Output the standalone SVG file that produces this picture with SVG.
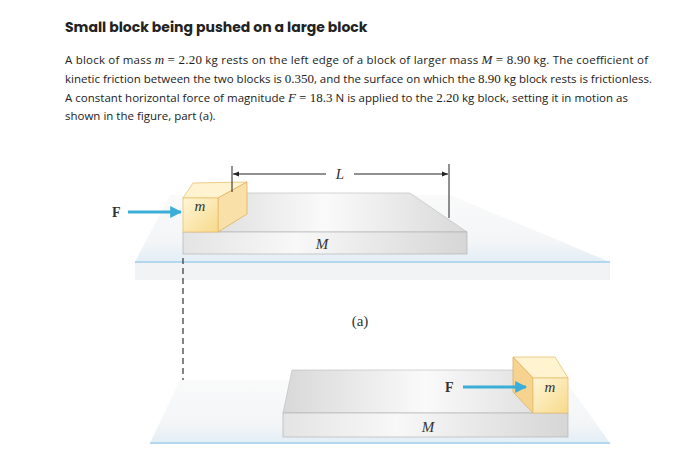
<svg xmlns="http://www.w3.org/2000/svg" width="700" height="464" viewBox="0 0 700 464">
<defs>
<style>
.t{font-family:"Open Sans","Liberation Sans",sans-serif;font-size:11.5px;fill:#222}
.mi{font-family:"Liberation Serif",serif;font-style:italic;font-size:13px}
.mn{font-family:"Liberation Serif",serif;font-size:13px}
.lab{font-family:"Liberation Serif",serif;font-style:italic;font-size:15px;fill:#333}
.F{font-family:"Liberation Serif",serif;font-weight:bold;font-size:14px;fill:#333}
.arrow{stroke:#3aaed8;stroke-width:3;fill:none}
.dim{stroke:#222;stroke-width:1;fill:none}
</style>
<linearGradient id="floor" x1="0" y1="0" x2="0" y2="1"><stop offset="0" stop-color="#fafafa"/><stop offset="0.7" stop-color="#f3f5f7"/><stop offset="1" stop-color="#e3eef6"/></linearGradient>
<linearGradient id="top" x1="0" y1="0" x2="1" y2="0"><stop offset="0" stop-color="#d8d8d8"/><stop offset="0.5" stop-color="#fafafa"/><stop offset="1" stop-color="#d9d9d9"/></linearGradient>
<linearGradient id="front" x1="0" y1="0" x2="1" y2="0"><stop offset="0" stop-color="#e4e4e4"/><stop offset="0.4" stop-color="#f8f8f8"/><stop offset="1" stop-color="#d6d6d6"/></linearGradient>
<linearGradient id="box" x1="0" y1="0" x2="1" y2="1"><stop offset="0" stop-color="#fff6d8"/><stop offset="1" stop-color="#f7d98a"/></linearGradient>
<marker id="ah" viewBox="0 0 10 10" refX="9" refY="5" markerWidth="4" markerHeight="4" orient="auto"><path d="M0,0L10,5L0,10z" fill="#3aaed8"/></marker>
<marker id="dh" viewBox="0 0 10 10" refX="10" refY="5" markerWidth="8" markerHeight="6" orient="auto"><path d="M0,1L10,5L0,9z" fill="#222"/></marker>
</defs>
<rect width="700" height="464" fill="#fff"/>
<text x="65" y="32" font-family="Poppins,'Open Sans','Liberation Sans',sans-serif" font-weight="bold" font-size="14" fill="#222">Small block being pushed on a large block</text>
<text class="t" x="65" y="64" textLength="583" lengthAdjust="spacing">A block of mass <tspan class="mi">m</tspan> <tspan class="mn">= 2.20</tspan> kg rests on the left edge of a block of larger mass <tspan class="mi">M</tspan> <tspan class="mn">= 8.90</tspan> kg. The coefficient of</text>
<text class="t" x="65" y="83" textLength="587" lengthAdjust="spacing">kinetic friction between the two blocks is <tspan class="mn">0.350</tspan>, and the surface on which the <tspan class="mn">8.90</tspan> kg block rests is frictionless.</text>
<text class="t" x="65" y="102" textLength="563" lengthAdjust="spacing">A constant horizontal force of magnitude <tspan class="mi">F</tspan> <tspan class="mn">= 18.3</tspan> N is applied to the <tspan class="mn">2.20</tspan> kg block, setting it in motion as</text>
<text class="t" x="65" y="120">shown in the figure, part (a).</text>
<g id="floorA"><polygon points="170,195 450,195 610,262 135,262" fill="url(#floor)"/><rect x="135" y="263" width="475" height="17" fill="#f2f3f4"/><line x1="135" y1="262" x2="610" y2="262" stroke="#b3d8ee" stroke-width="2"/></g>
<g id="blockM_a"><polygon points="233,193 410,193 467,232 183,232" fill="url(#top)" stroke="#bbb" stroke-width="0.6"/><rect x="183" y="232" width="284" height="22" fill="url(#front)" stroke="#aaa" stroke-width="0.6"/><text class="lab" x="322" y="249" text-anchor="middle">M</text></g>
<g id="block_m_a"><polygon points="183,198 193,183 247,182 218,198" fill="#fff3d0" stroke="#e8c070" stroke-width="0.8"/><polygon points="218,198 247,182 247,214 218,232" fill="#f9e0a8" stroke="#e0b060" stroke-width="0.8"/><rect x="183" y="198" width="35" height="34" fill="url(#box)" stroke="#e8c070" stroke-width="0.8"/><text class="lab" x="200" y="211" text-anchor="middle" font-size="12">m</text></g>
<g id="forceA"><text class="F" x="112" y="217">F</text><line class="arrow" x1="128" y1="212" x2="181" y2="212" marker-end="url(#ah)"/></g>
<g id="dimL"><line class="dim" x1="232" y1="166" x2="232" y2="192"/><line class="dim" x1="449" y1="164" x2="449" y2="218"/><line class="dim" x1="326" y1="174" x2="233" y2="174" marker-end="url(#dh)"/><line class="dim" x1="354" y1="174" x2="448" y2="174" marker-end="url(#dh)"/><text class="lab" x="340" y="179" text-anchor="middle">L</text></g>
<line x1="183" y1="258" x2="183" y2="440" stroke="#333" stroke-width="1.2" stroke-dasharray="6,4"/>
<text x="360" y="326" font-family="'Liberation Serif',serif" font-size="15" fill="#333" text-anchor="middle">(a)</text>
<g id="floorB"><polygon points="180,380 565,380 610,443 150,443" fill="url(#floor)"/><line x1="150" y1="443" x2="610" y2="443" stroke="#b3d8ee" stroke-width="2"/></g>
<g id="blockM_b"><polygon points="292,370 540,370 568,413 283,413" fill="url(#top)" stroke="#bbb" stroke-width="0.6"/><rect x="283" y="413" width="285" height="24" fill="url(#front)" stroke="#aaa" stroke-width="0.6"/><text class="lab" x="428" y="432" text-anchor="middle">M</text></g>
<g id="block_m_b"><polygon points="513,357 555,357 568,378 533,378" fill="#fff3d0" stroke="#e8c070" stroke-width="0.8"/><polygon points="513,357 533,378 533,413 513,392" fill="#f6d490" stroke="#e0b060" stroke-width="0.8"/><rect x="533" y="378" width="35" height="35" fill="url(#box)" stroke="#e8c070" stroke-width="0.8"/><text class="lab" x="550" y="392" text-anchor="middle" font-size="12">m</text></g>
<g id="forceB"><text class="F" x="445" y="392">F</text><line class="arrow" x1="463" y1="387" x2="526" y2="387" marker-end="url(#ah)"/></g>
</svg>
